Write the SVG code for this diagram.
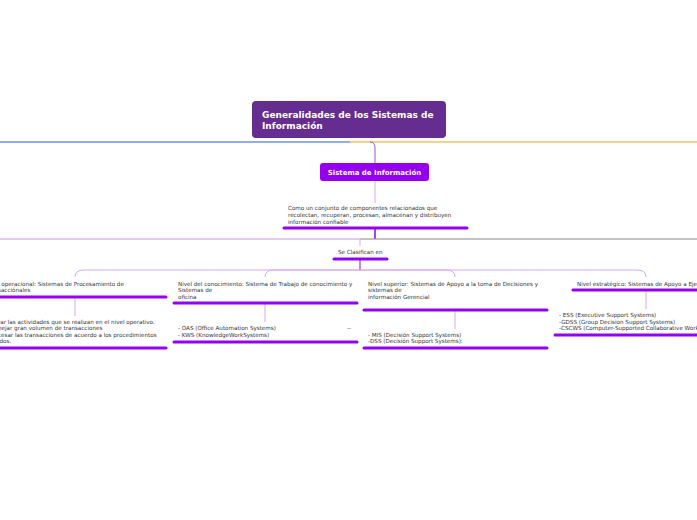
<svg xmlns="http://www.w3.org/2000/svg" width="697" height="520" viewBox="0 0 697 520">
<style>
text{font-family:"DejaVu Sans","Liberation Sans",sans-serif;fill:#333;font-size:5.6px}
.u{stroke:#9500f0;stroke-width:3;stroke-linecap:round}
.c{fill:none;stroke:#d6a6f5;stroke-width:1}
.w{font-weight:bold;fill:#fff}
.t{font-size:9px}
.s{font-size:7px}
</style>
<rect width="697" height="520" fill="#fff"/>
<g id="connectors">
<line x1="0" y1="142" x2="350" y2="142" stroke="#1f5ee0" stroke-width="1.2"/>
<line x1="350" y1="142" x2="697" y2="142" stroke="#f5a011" stroke-width="1.2"/>
<path d="M370 142 Q375 142 375 148 V164" fill="none" stroke="#a04ed8" stroke-width="1"/>
<line x1="375" y1="181" x2="375" y2="203" class="c"/>
<line x1="375" y1="229" x2="375" y2="239" stroke="#9500f0" stroke-width="1.5"/>
<line x1="0" y1="239" x2="360" y2="239" stroke="#c990f0" stroke-width="1"/>
<line x1="360" y1="239" x2="697" y2="239" stroke="#888" stroke-width="1"/>
<line x1="360" y1="239" x2="360" y2="246" class="c"/>
<line x1="360" y1="260" x2="360" y2="270" stroke="#9500f0" stroke-width="1"/>
<path d="M360 270 H84 Q75 270 75 277 M360 270 H274 Q265 270 265 277 M360 270 H446 Q455 270 455 277 M360 270 H637 Q646 270 646 277" class="c"/>
<line x1="75" y1="298" x2="75" y2="316" class="c"/>
<line x1="265" y1="304" x2="265" y2="322" class="c"/>
<line x1="455" y1="311" x2="455" y2="329" class="c"/>
<line x1="646" y1="291" x2="646" y2="309" class="c"/>
</g>
<g id="root">
<rect x="252" y="101" width="194" height="37" rx="4" fill="#662d91"/>
<text x="262" y="118" class="w t">Generalidades de los Sistemas de</text>
<text x="262" y="129" class="w t">Información</text>
</g>
<g id="si">
<rect x="320" y="163" width="109" height="18" rx="3" fill="#9500f0"/>
<text x="374.5" y="175" class="w s" text-anchor="middle">Sistema de Información</text>
</g>
<g id="def">
<text x="288" y="210">Como un conjunto de componentes relacionados que</text>
<text x="288" y="217">recolectan, recuperan, procesan, almacenan y distribuyen</text>
<text x="288" y="224">información confiable</text>
<line x1="284" y1="228" x2="467" y2="228" class="u"/>
</g>
<g id="clas">
<text x="338" y="254">Se Clasifican en</text>
<line x1="334" y1="259" x2="387" y2="259" class="u"/>
</g>
<g id="n1">
<text x="-2" y="286">l operacional:  Sistemas de Procesamiento de</text>
<text x="-2" y="292">sacciónales</text>
<line x1="0" y1="297" x2="166" y2="297" class="u"/>
</g>
<g id="n1b">
<text x="-2" y="324">rar las actividades que se realizan en el nivel operativo.</text>
<text x="-2" y="330">nejar gran volumen de transacciones</text>
<text x="-2" y="337">cesar las transacciones de acuerdo a los procedimientos</text>
<text x="-2" y="343">idos.</text>
<line x1="0" y1="348" x2="166" y2="348" class="u"/>
</g>
<g id="n2">
<text x="178" y="286">Nivel del conocimiento: Sistema de Trabajo de conocimiento y</text>
<text x="178" y="292">Sistemas de</text>
<text x="178" y="299">oficina</text>
<line x1="174" y1="303" x2="357" y2="303" class="u"/>
</g>
<g id="n2b">
<text x="178" y="330">- OAS (Office Automation Systems)</text>
<text x="347" y="330">--</text>
<text x="178" y="337">- KWS (KnowledgeWorkSystems)</text>
<line x1="174" y1="342" x2="357" y2="342" class="u"/>
</g>
<g id="n3">
<text x="368" y="286">Nivel superior: Sistemas de Apoyo a la toma de Decisiones y</text>
<text x="368" y="292">sistemas de</text>
<text x="368" y="299">información Gerencial</text>
<line x1="364" y1="310" x2="547" y2="310" class="u"/>
</g>
<g id="n3b">
<text x="368" y="337">- MIS  (Decisión Support Systems)</text>
<text x="368" y="343">-DSS (Decisión Support Systems):</text>
<line x1="364" y1="348" x2="547" y2="348" class="u"/>
</g>
<g id="n4">
<text x="577" y="286">Nivel estratégico: Sistemas de Apoyo a Ejecutivos</text>
<line x1="573" y1="290" x2="700" y2="290" class="u"/>
</g>
<g id="n4b">
<text x="559" y="317">- ESS (Executive Support Systems)</text>
<text x="559" y="324">-GDSS (Group Decision Support Systems)</text>
<text x="559" y="330">-CSCWS (Computer-Supported Collaborative Work Systems)</text>
<line x1="555" y1="335" x2="700" y2="335" class="u"/>
</g>
</svg>
